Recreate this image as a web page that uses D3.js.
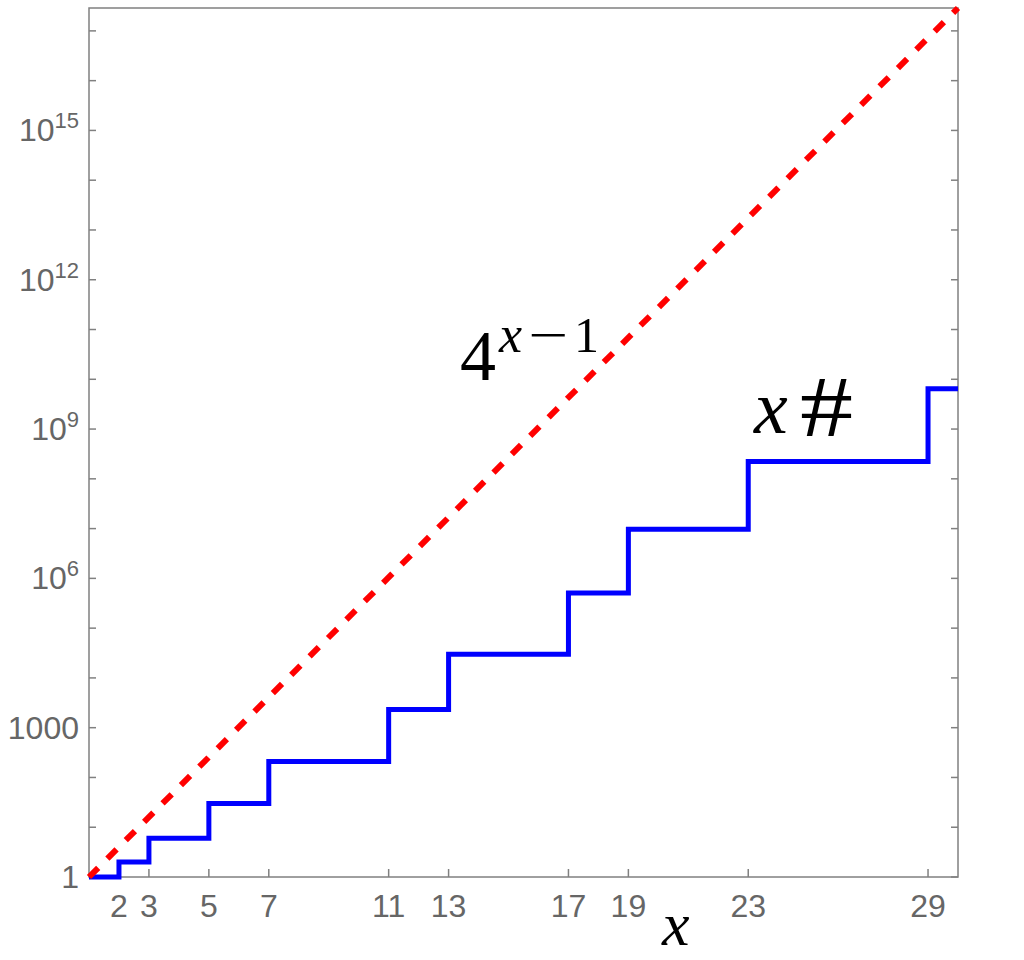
<!DOCTYPE html>
<html><head><meta charset="utf-8">
<script src="https://cdn.jsdelivr.net/npm/d3@7"></script>
<style>body{margin:0;background:#fff}svg{display:block}</style>
</head><body>
<script>
// ---- data ----
const primes = [2, 3, 5, 7, 11, 13, 17, 19, 23, 29];
const stepX = [1, 2, 3, 5, 7, 11, 13, 17, 19, 23, 29, 30];
const stepY = [1, 2, 6, 30, 210, 2310, 30030, 510510, 9699690, 223092870, 6469693230, 6469693230];
const powX = [1, 30];
const powY = [1, 288230376151711744]; // 4^0 .. 4^29
const yMajorExps = [0, 3, 6, 9, 12, 15];
const yMinorExps = [1, 2, 4, 5, 7, 8, 10, 11, 13, 14, 16, 17];

const W = 1024, H = 960;
const L = 89, T = 8, PW = 869, PH = 869;
const svg = d3.select("body").append("svg").attr("width", W).attr("height", H);

const x = d3.scaleLinear().domain([1, 30]).range([L, L + PW]);
const y = d3.scaleLog().domain([1, 288230376151711744]).range([T + PH, T]);

const gray = "#808080", labelGray = "#666";
const sans = "Liberation Sans, Arial, sans-serif";

// frame
svg.append("rect").attr("x", L).attr("y", T).attr("width", PW).attr("height", PH)
  .attr("fill", "none").attr("stroke", gray).attr("stroke-width", 1.5);

// y ticks (left & right, inward)
const allExps = yMajorExps.concat(yMinorExps);
allExps.forEach(e => {
  const yy = y(Math.pow(10, e));
  svg.append("line").attr("x1", L).attr("x2", L + 7).attr("y1", yy).attr("y2", yy).attr("stroke", gray).attr("stroke-width", 1.5);
  svg.append("line").attr("x1", L + PW).attr("x2", L + PW - 7).attr("y1", yy).attr("y2", yy).attr("stroke", gray).attr("stroke-width", 1.5);
});
// y labels
yMajorExps.forEach(e => {
  const yy = y(Math.pow(10, e));
  const t = svg.append("text").attr("text-anchor", "end").attr("x", L - 10).attr("y", yy + 11)
    .attr("font-family", sans).attr("font-size", 32).attr("fill", labelGray);
  if (e === 0) t.text("1");
  else if (e === 3) t.text("1000");
  else {
    t.append("tspan").text("10");
    t.append("tspan").attr("font-size", 22).attr("dy", -13).text(String(e));
  }
});

// x ticks and labels
primes.forEach(p => {
  svg.append("line").attr("x1", x(p)).attr("x2", x(p)).attr("y1", T + PH).attr("y2", T + PH - 8).attr("stroke", gray).attr("stroke-width", 1.5);
  svg.append("text").attr("x", x(p)).attr("y", 917).attr("text-anchor", "middle")
    .attr("font-family", sans).attr("font-size", 32).attr("fill", labelGray).text(p);
});

// blue step line
const stepData = stepX.map((d, i) => [d, stepY[i]]);
svg.append("path").datum(stepData)
  .attr("d", d3.line().x(d => x(d[0])).y(d => y(d[1])).curve(d3.curveStepAfter))
  .attr("fill", "none").attr("stroke", "#0000ff").attr("stroke-width", 5).attr("stroke-linejoin", "miter");

// red dashed line
const powData = powX.map((d, i) => [d, powY[i]]);
svg.append("path").datum(powData)
  .attr("d", d3.line().x(d => x(d[0])).y(d => y(d[1])))
  .attr("fill", "none").attr("stroke", "#ff0000").attr("stroke-width", 6).attr("stroke-dasharray", "13,13");

// annotations
const serif = "Liberation Serif, Times New Roman, serif";
svg.append("text").attr("x", 460).attr("y", 380).attr("font-family", serif).attr("font-size", 72).text("4");
svg.append("text").attr("x", 499).attr("y", 352).attr("font-family", serif).attr("font-size", 52)
  .attr("font-style", "italic").text("x");
svg.append("text").attr("x", 528).attr("y", 352).attr("font-family", serif).attr("font-size", 50)
  .attr("textLength", 40).attr("lengthAdjust", "spacingAndGlyphs").text("\u2212");
svg.append("text").attr("x", 574).attr("y", 352).attr("font-family", serif).attr("font-size", 50).text("1");

svg.append("text").attr("x", 754).attr("y", 433).attr("font-family", serif).attr("font-size", 76)
  .attr("font-style", "italic").text("x");
svg.append("text").attr("x", 800).attr("y", 436).attr("font-family", serif).attr("font-size", 86)
  .attr("textLength", 53).attr("lengthAdjust", "spacingAndGlyphs").text("#");

svg.append("text").attr("x", 662).attr("y", 945).attr("font-family", serif).attr("font-size", 62)
  .attr("font-style", "italic").attr("fill", "#000").text("x");
</script>
</body></html>
